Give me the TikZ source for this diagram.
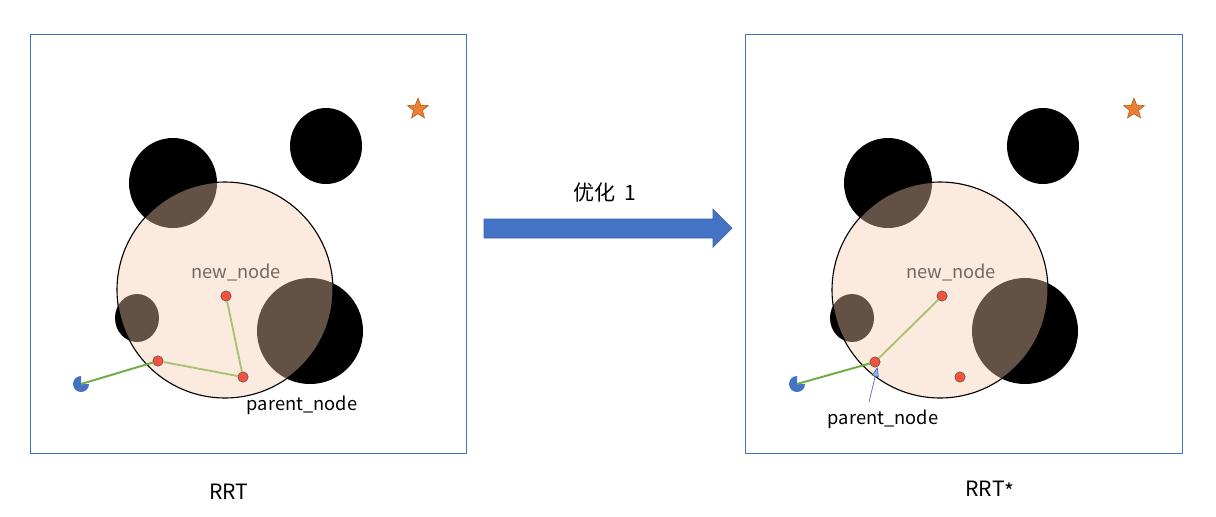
\documentclass[tikz,border=0pt]{standalone}
\usepackage{fontspec}
\setmainfont{Noto Sans CJK SC}
\usetikzlibrary{shapes.geometric,arrows.meta,positioning}

\definecolor{frameblue}{RGB}{68,114,196}
\definecolor{goalorange}{RGB}{237,125,49}
\definecolor{peach}{RGB}{248,203,173}
\definecolor{nodered}{RGB}{245,82,62}
\definecolor{pathgreen}{RGB}{112,173,71}
\definecolor{treegreen}{RGB}{163,196,112}
\definecolor{labelgrey}{RGB}{112,104,100}

\tikzset{
  panel/.style={draw=frameblue,line width=0.6pt},
  obstacle/.style={fill=black},
  nearzone/.style={draw=black,line width=0.8pt,fill=peach,fill opacity=0.4},
  treenode/.style={circle,draw=black!65,fill=nodered,inner sep=0pt,minimum size=0.26cm,line width=0.4pt},
  goalstar/.style={star,star points=5,star point ratio=2.3,draw=goalorange!75!black,fill=goalorange,inner sep=0pt,minimum size=0.55cm,line width=0.4pt},
  startfill/.style={fill=frameblue},
  pathedge/.style={pathgreen,line width=1.4pt},
  treeedge/.style={treegreen,line width=1.3pt},
  lbl/.style={font=\fontsize{13}{15}\selectfont,inner sep=0pt},
  biglbl/.style={font=\fontsize{15}{17}\selectfont,inner sep=0pt},
}

\begin{document}
\begin{tikzpicture}[x=0.025cm,y=-0.025cm]
        \useasboundingbox (0,0) rectangle (1216,516);
        % left panel: RRT
        \draw[panel] (30,34) rectangle (466,453);
        \fill[obstacle] (173,183) ellipse (44 and 45);
        \fill[obstacle] (326,146) ellipse (36 and 38);
        \fill[obstacle] (137,318) ellipse (22 and 24);
        \fill[obstacle] (310,331) ellipse (53 and 53);
        \draw[nearzone] (225,290) circle (108);
        \node[goalstar] (goalL) at (418,109) {};
        \coordinate (startL) at (81,384);
        \fill[startfill] (startL) -- ++(90:0.2cm) arc[start angle=90,end angle=360,radius=0.2cm] -- cycle;
        \node[treenode] (midL) at (158,361) {};
        \node[treenode] (parentL) at (243,377) {};
        \node[treenode] (newL) at (226,296) {};
        \draw[pathedge] (startL) -- (midL);
        \draw[treeedge] (midL) -- (parentL);
        \draw[treeedge] (parentL) -- (newL);
        \node[lbl,text=labelgrey] (newlabelL) at (236,272) {new\_node};
        \node[lbl] (parentlabelL) at (302,405) {parent\_node};
        \node[biglbl] (titleL) at (229,492) {RRT};

        % middle arrow
        \filldraw[fill=frameblue,draw=frameblue!85!black,line width=0.5pt]
          (484,219) -- (713,219) -- (713,209) -- (732,228) -- (713,247) -- (713,238) -- (484,238) -- cycle;
        \node[biglbl] (optlabel) at (605,192) {优化\ \ 1};

        % right panel: RRT*
        \draw[panel] (745,34) rectangle (1182,453);
        \fill[obstacle] (888,183) ellipse (44 and 45);
        \fill[obstacle] (1043,146) ellipse (36 and 38);
        \fill[obstacle] (852,318) ellipse (22 and 24);
        \fill[obstacle] (1025,331) ellipse (53 and 53);
        \draw[nearzone] (940,290) circle (108);
        \node[goalstar] (goalR) at (1134,109) {};
        \coordinate (startR) at (797,384);
        \fill[startfill] (startR) -- ++(90:0.2cm) arc[start angle=90,end angle=360,radius=0.2cm] -- cycle;
        \node[treenode] (parentR) at (875,362) {};
        \node[treenode] (otherR) at (960,377) {};
        \node[treenode] (newR) at (942,296) {};
        \draw[pathedge] (startR) -- (parentR);
        \draw[treeedge] (parentR) -- (newR);
        \node[lbl,text=labelgrey] (newlabelR) at (951,272) {new\_node};
        \node[lbl] (parentlabelR) at (883,419) {parent\_node};
        \coordinate (pointerR) at (869,402);
        \draw[frameblue,line width=0.5pt,-{Triangle[length=7pt,width=5pt,fill=frameblue!55]}] (pointerR) -- (parentR.-62);
        \node[biglbl] (titleR) at (990,490) {RRT\raisebox{-0.3ex}{*}};
\end{tikzpicture}
\end{document}
